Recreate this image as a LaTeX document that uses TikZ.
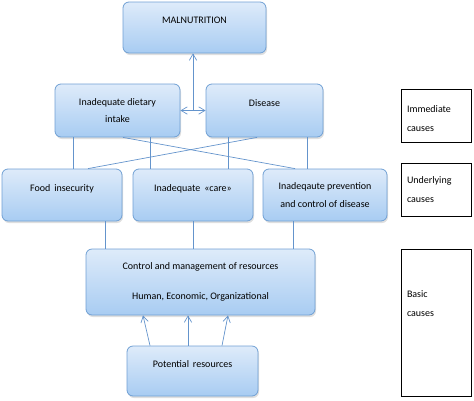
\documentclass[tikz,border=0pt]{standalone}
\usepackage{fontspec}
\setmainfont{Carlito}
\usetikzlibrary{arrows.meta, calc, positioning, shadows}
\definecolor{boxtop}{RGB}{222,235,250}
\definecolor{boxbottom}{RGB}{168,204,242}
\definecolor{boxline}{RGB}{112,160,212}
\definecolor{linkblue}{RGB}{100,148,204}

\begin{document}
\begin{tikzpicture}[
    x=1pt, y=-1pt,
    cause/.style={draw=boxline, line width=0.8pt, rectangle, rounded corners=6pt, top color=boxtop, bottom color=boxbottom, align=center, font=\fontsize{10}{17.5}\selectfont, drop shadow={opacity=0.25, shadow xshift=1pt, shadow yshift=-2pt}},
    oneline/.style={text depth=14pt},
    level/.style={draw, line width=0.6pt, fill=white, rectangle, minimum width=70pt, minimum height=53pt, text width=58pt, inner sep=0pt, align=left, font=\fontsize{10}{19}\selectfont},
    link/.style={draw=linkblue, line width=0.7pt},
    arrow/.style={link, -{Straight Barb[length=2.2mm, width=2.6mm]}},
    arrowboth/.style={link, {Straight Barb[length=2.2mm, width=2.6mm]}-{Straight Barb[length=2.2mm, width=2.6mm]}}
]
\useasboundingbox (0,0) rectangle (474,400);

% Outcome
\node[cause, oneline, minimum width=143pt, minimum height=51pt] (maln) at (194.5,27.5) {MALNUTRITION};

% Immediate causes
\node[cause, minimum width=125pt, minimum height=53pt] (diet) at (117.5,110.5) {Inadequate dietary\\intake};
\node[cause, oneline, minimum width=117pt, minimum height=53pt] (disease) at (264.5,110.5) {Disease};

% Underlying causes
\node[cause, oneline, minimum width=120pt, minimum height=52pt] (food) at (62,195) {Food\, insecurity};
\node[cause, oneline, minimum width=120pt, minimum height=52pt] (care) at (193,195) {Inadequate\, «care»};
\node[cause, minimum width=124pt, minimum height=52pt] (prev) at (325,195) {Inadeqaute prevention\\and control of disease};

% Basic causes
\node[cause, minimum width=229pt, minimum height=66pt] (control) at (200.5,282) {Control and management of resources\\[12.5pt]Human, Economic, Organizational};
\node[cause, oneline, minimum width=131pt, minimum height=50pt] (potential) at (192.5,371) {Potential\, resources};

% Level labels
\node[level, text depth=12pt] (immediate) at (436,115.5) {Immediate\\causes};
\node[level] (underlying) at (436,189.5) {Underlying\\causes};
\node[level, minimum height=147pt, text depth=56pt] (basic) at (436,322.5) {Basic\\causes};

% Arrows to malnutrition
\coordinate (mid) at ($(diet.east)!0.5!(disease.west)$);
\draw[arrowboth] (diet.east) -- (disease.west);
\draw[arrow] (mid) -- (mid |- maln.south);

% Links between immediate and underlying causes
\draw[link] ([xshift=11pt]food.north) -- ([xshift=11pt]food.north |- diet.south);
\draw[link] ([xshift=-43pt]care.north) -- ([xshift=-43pt]care.north |- diet.south);
\draw[link] ([xshift=35pt]care.north) -- ([xshift=35pt]care.north |- disease.south);
\draw[link] ([xshift=-18pt]prev.north) -- ([xshift=-18pt]prev.north |- disease.south);
\draw[link] ([xshift=5.5pt]diet.south) -- ([xshift=-30pt]prev.north);
\draw[link] ([xshift=-7.5pt]disease.south) -- ([xshift=26pt]food.north);

% Links to control of resources
\draw[link] ([xshift=43pt]food.south) -- ([xshift=43pt]food.south |- control.north);
\draw[link] (care.south) -- (care.south |- control.north);
\draw[link] ([xshift=-32pt]prev.south) -- ([xshift=-32pt]prev.south |- control.north);

% Potential resources
\draw[arrow] ([xshift=-42.5pt]potential.north) -- ([xshift=-57.5pt]control.south);
\draw[arrow] ([xshift=-4.5pt]potential.north) -- ([xshift=-12.5pt]control.south);
\draw[arrow] ([xshift=29.5pt]potential.north) -- ([xshift=27.5pt]control.south);

\end{tikzpicture}
\end{document}
